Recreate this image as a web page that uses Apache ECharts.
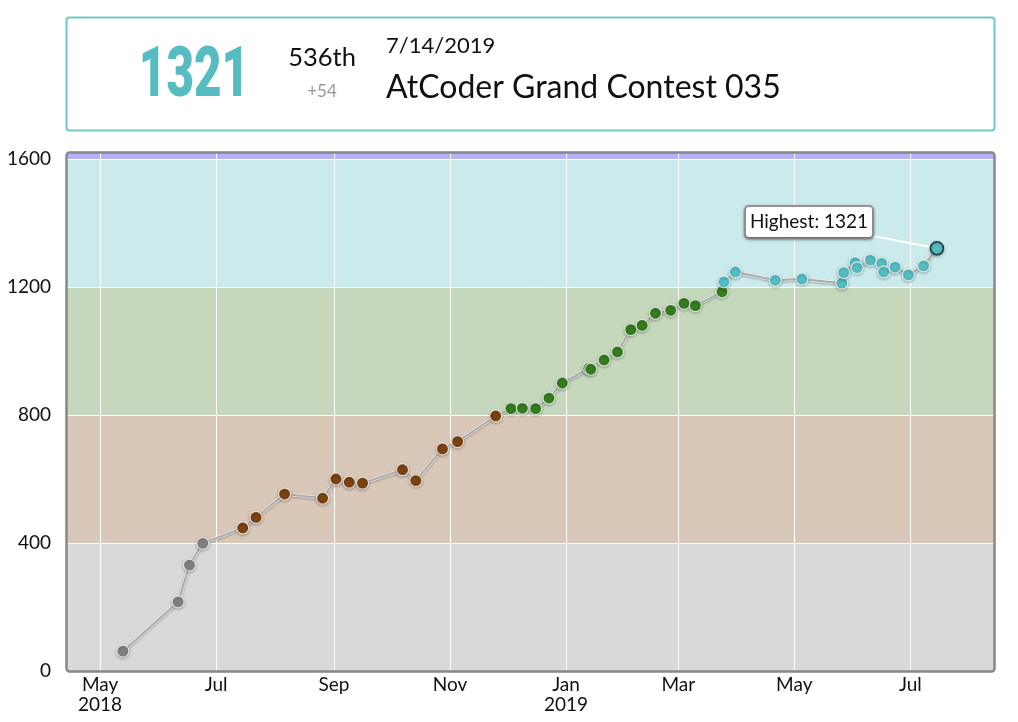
<!DOCTYPE html>
<html>
<head>
    <meta charset="utf-8">
    <title>Rating Graph</title>
    <style type="text/css">
        html, body {
            margin: 0;
            height: 100%;
            background: #fff;
        }
        #chart {
            width: 1018px;
            height: 722px;
        }
    </style>
</head>
<body>
    <div id="chart"></div>
    <script src="https://cdn.jsdelivr.net/npm/echarts@6/dist/echarts.min.js"></script>
    <script>
        var contestDates = [
            '2018-05-13', '2018-06-11', '2018-06-17', '2018-06-24', '2018-07-15', '2018-07-22',
            '2018-08-06', '2018-08-26', '2018-09-02', '2018-09-09', '2018-09-16', '2018-10-07',
            '2018-10-14', '2018-10-28', '2018-11-05', '2018-11-25', '2018-12-03', '2018-12-09',
            '2018-12-16', '2018-12-23', '2018-12-30', '2019-01-13', '2019-01-14', '2019-01-21',
            '2019-01-28', '2019-02-04', '2019-02-10', '2019-02-17', '2019-02-25', '2019-03-04',
            '2019-03-10', '2019-03-24', '2019-03-25', '2019-03-31', '2019-04-21', '2019-05-05',
            '2019-05-26', '2019-05-27', '2019-06-02', '2019-06-03', '2019-06-10', '2019-06-16',
            '2019-06-17', '2019-06-23', '2019-06-30', '2019-07-08', '2019-07-15'
        ];
        var ratings = [
            62, 216, 331, 399, 447, 480,
            553, 540, 600, 590, 587, 629,
            595, 694, 717, 797, 820, 821,
            820, 853, 900, 946, 943, 972,
            997, 1067, 1080, 1118, 1127, 1149,
            1142, 1185, 1216, 1247, 1221, 1225,
            1212, 1245, 1276, 1260, 1284, 1274,
            1247, 1262, 1238, 1266, 1321
        ];
        var tickDates = ['2018-05-01', '2018-07-01', '2018-09-01', '2018-11-01', '2019-01-01', '2019-03-01', '2019-05-01', '2019-07-01'];
        var tickLabels = ['May\n2018', 'Jul', 'Sep', 'Nov', 'Jan\n2019', 'Mar', 'May', 'Jul'];
        var ratingTicks = [0, 400, 800, 1200, 1600];
        var bandEdges = [0, 400, 800, 1200, 1600, 1618.75];
        var bandColors = ['#d9d9d9', '#d9c7b8', '#c5d8bc', '#cbeaec', '#b3b3f5'];
        var pointColors = ['#808080', '#7a4210', '#347c1e', '#55bcc2', '#3333cc'];

        function time(s) {
            return new Date(s + 'T00:00:00').getTime();
        }

        var tickTimes = tickDates.map(time);
        var lastIndex = ratings.length - 1;

        var bands = bandColors.map(function (color, i) {
            return [
                { yAxis: bandEdges[i], itemStyle: { color: color, opacity: 1 } },
                { yAxis: bandEdges[i + 1] }
            ];
        });

        var linePoints = ratings.map(function (r, i) {
            return [time(contestDates[i]), r];
        });

        var points = ratings.map(function (r, i) {
            var last = i === lastIndex;
            var item = {
                value: linePoints[i],
                symbolSize: last ? 13 : 12,
                itemStyle: {
                    color: pointColors[Math.floor(r / 400)],
                    borderColor: last ? '#1c3a3c' : 'rgba(255,255,255,0.75)',
                    borderWidth: last ? 1.5 : 1.2,
                    shadowBlur: 3,
                    shadowOffsetY: 1,
                    shadowColor: 'rgba(0,0,0,0.3)'
                }
            };
            if (last) {
                item.label = {
                    show: true,
                    formatter: 'Highest: ' + r,
                    fontFamily: 'Lato',
                    fontSize: 19,
                    color: '#111',
                    backgroundColor: '#fff',
                    borderColor: '#999',
                    borderWidth: 2,
                    borderRadius: 3,
                    padding: [6, 4, 5, 4],
                    shadowBlur: 3,
                    shadowOffsetY: 1,
                    shadowColor: 'rgba(0,0,0,0.4)'
                };
            }
            return item;
        });

        var chart = echarts.init(document.getElementById('chart'));
        chart.setOption({
            animation: false,
            grid: { left: 67, right: 24, top: 153, bottom: 51 },
            xAxis: {
                // plain value axis on timestamps so the two-month ticks can be listed
                type: 'value',
                z: 2,
                min: time('2018-05-01') - 17.4 * 86400000,
                max: time('2018-05-01') + 470 * 86400000,
                axisLine: { show: false },
                axisTick: { show: false, customValues: tickTimes },
                splitLine: { show: true, lineStyle: { color: '#fff', width: 1 } },
                axisLabel: {
                    customValues: tickTimes,
                    fontFamily: 'Lato',
                    fontSize: 19,
                    lineHeight: 20,
                    color: '#111',
                    margin: 4,
                    hideOverlap: false,
                    formatter: function (value) {
                        return tickLabels[tickTimes.indexOf(value)];
                    }
                }
            },
            yAxis: {
                type: 'value',
                z: 2,
                min: 0,
                max: 1618.75,
                axisLine: { show: false },
                axisTick: { show: false, customValues: ratingTicks },
                splitLine: { show: true, lineStyle: { color: '#fff', width: 1 } },
                axisLabel: {
                    customValues: ratingTicks,
                    fontFamily: 'Lato',
                    fontSize: 19,
                    color: '#111',
                    margin: 16,
                    formatter: function (value) {
                        return String(value);
                    }
                }
            },
            series: [
                {
                    // colour bands behind the grid lines
                    type: 'line',
                    z: 1,
                    silent: true,
                    data: [],
                    markArea: { z: 1, silent: true, data: bands }
                },
                {
                    // pale halo and shadow under the rating line
                    type: 'line',
                    z: 3,
                    silent: true,
                    symbol: 'none',
                    lineStyle: {
                        color: 'rgba(255,255,255,0.75)',
                        width: 3.5,
                        shadowBlur: 2,
                        shadowOffsetY: 1,
                        shadowColor: 'rgba(0,0,0,0.35)'
                    },
                    data: linePoints
                },
                {
                    type: 'line',
                    z: 4,
                    silent: true,
                    symbol: 'circle',
                    showSymbol: true,
                    showAllSymbol: true,
                    lineStyle: { color: '#aaa', width: 2 },
                    labelLayout: { x: 809, y: 222, align: 'center', verticalAlign: 'middle', moveOverlap: false },
                    labelLine: { show: false },
                    markLine: {
                        z: 3,
                        silent: true,
                        symbol: 'none',
                        label: { show: false },
                        lineStyle: { color: '#fff', width: 2, type: 'solid' },
                        data: [[{ coord: linePoints[lastIndex] }, { x: 873, y: 236 }]]
                    },
                    data: points
                }
            ],
            graphic: [
                {
                    type: 'rect',
                    z: 1,
                    silent: true,
                    shape: { x: 66.5, y: 17.5, width: 928, height: 113, r: 3 },
                    style: { fill: '#fff', stroke: '#72c9c9', lineWidth: 2 }
                },
                {
                    type: 'text',
                    z: 2,
                    x: 194,
                    y: 78,
                    scaleX: 0.68,
                    style: {
                        text: '1321',
                        x: 0,
                        y: 0,
                        align: 'center',
                        verticalAlign: 'middle',
                        font: '900 70px Roboto',
                        fill: '#55bcc2'
                    }
                },
                {
                    type: 'text',
                    z: 2,
                    style: { text: '536th', x: 322, y: 58, align: 'center', verticalAlign: 'middle', font: '25.5px Lato', fill: '#111' }
                },
                {
                    type: 'text',
                    z: 2,
                    style: { text: '+54', x: 322, y: 92, align: 'center', verticalAlign: 'middle', font: '17px Lato', fill: '#999' }
                },
                {
                    type: 'text',
                    z: 2,
                    style: { text: '7/14/2019', x: 386, y: 46, align: 'left', verticalAlign: 'middle', font: '22px Lato', fill: '#111' }
                },
                {
                    type: 'text',
                    z: 2,
                    style: { text: 'AtCoder Grand Contest 035', x: 386, y: 88, align: 'left', verticalAlign: 'middle', font: '32px Lato', fill: '#111' }
                },
                {
                    // plot frame
                    type: 'rect',
                    z: 5,
                    silent: true,
                    shape: { x: 66.5, y: 152.5, width: 928, height: 519, r: 3 },
                    style: {
                        fill: 'none',
                        stroke: '#888',
                        lineWidth: 2.5
                    }
                }
            ]
        });

        window.addEventListener('resize', function () {
            chart.resize();
        });
    </script>
</body>
</html>
